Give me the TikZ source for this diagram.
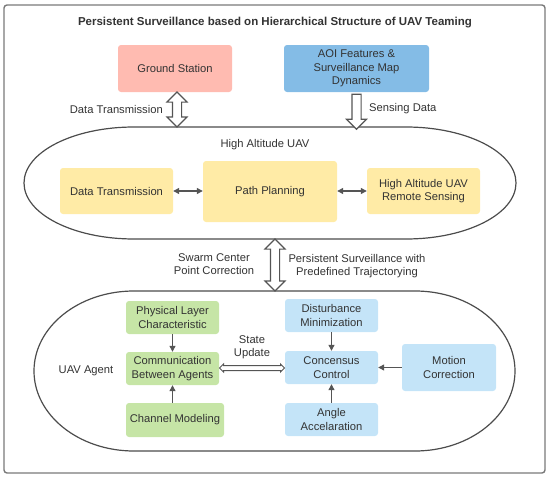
\documentclass[tikz,border=0pt]{standalone}
\usepackage{fontspec}
\setmainfont{Liberation Sans}
\usetikzlibrary{arrows.meta,shapes.arrows,calc}
\definecolor{gsred}{HTML}{FFBBB1}
\definecolor{aoiblue}{HTML}{84BCE6}
\definecolor{ylw}{HTML}{FFEBA6}
\definecolor{grn}{HTML}{C6E5A6}
\definecolor{lblue}{HTML}{C4E4F8}
\definecolor{txt}{HTML}{333333}
\definecolor{ln}{HTML}{555555}
\definecolor{framec}{HTML}{7A7A7A}
\begin{document}
\begin{tikzpicture}[x=1pt,y=-1pt,
  every node/.style={font=\fontsize{11.2pt}{13.5pt}\selectfont, text=txt},
  boxstyle/.style={rounded corners=3pt, inner sep=0pt, align=center},
  lbl/.style={inner sep=0pt, align=center},
  conn/.style={draw=ln, line width=1.2pt, -{Triangle[length=6pt,width=6pt]}},
  dconn/.style={draw=ln, line width=1.2pt, {Triangle[length=6pt,width=6pt]}-{Triangle[length=6pt,width=6pt]}},
  container/.style={draw=ln!90!black, line width=1.2pt},
  bigdbl/.style={double arrow, draw=ln, fill=white, line width=1.1pt, inner xsep=0pt, inner ysep=4pt,
    double arrow head extend=5.5pt, double arrow tip angle=90, minimum width=19pt},
  bigsgl/.style={single arrow, draw=ln, fill=white, line width=1.1pt, inner xsep=0pt, inner ysep=4pt,
    single arrow head extend=5.5pt, single arrow tip angle=90, minimum width=19pt},
  smalldbl/.style={double arrow, draw=ln, fill=white, line width=1pt, inner xsep=0pt, inner ysep=2pt,
    double arrow head extend=1.5pt, double arrow tip angle=90, minimum width=7pt}
]
\useasboundingbox (0,0) rectangle (550,479);
% frame
\draw[draw=framec, line width=1.4pt, rounded corners=3pt] (4,5) rectangle (545,473);
\node[font=\bfseries\fontsize{11.5pt}{13.5pt}\selectfont, lbl] (title) at (275,23)
  {Persistent Surveillance based on Hierarchical Structure of UAV Teaming};

% top boxes
\node[boxstyle, fill=gsred, minimum width=114, minimum height=47] (gs) at (175,68.5) {Ground Station};
\node[boxstyle, fill=aoiblue, minimum width=145, minimum height=47] (aoi) at (356.5,68.5)
  {AOI Features \&\\Surveillance Map\\Dynamics};

% high altitude container
\node[inner sep=0pt, minimum width=492, minimum height=112] (ha) at (270,183) {};
\draw[container] (134,127) -- (406,127) .. controls (466.75,127) and (516,152.1) .. (516,183)
  .. controls (516,213.9) and (466.75,239) .. (406,239) -- (134,239)
  .. controls (73.25,239) and (24,213.9) .. (24,183)
  .. controls (24,152.1) and (73.25,127) .. (134,127) -- cycle;
\node[lbl] (halbl) at (265,145) {High Altitude UAV};
\node[boxstyle, fill=ylw, minimum width=113, minimum height=46] (dt) at (116.5,191) {Data Transmission};
\node[boxstyle, fill=ylw, minimum width=134, minimum height=61] (pp) at (270,191.5) {Path Planning};
\node[boxstyle, fill=ylw, minimum width=113, minimum height=46] (rs) at (423.5,191)
  {High Altitude UAV\\Remote Sensing};
\draw[dconn] (dt.east) -- (dt.east -| pp.west);
\draw[dconn] (rs.west -| pp.east) -- (rs.west);

% arrows between top boxes and container
\node[bigdbl, rotate=90, minimum height=35pt] (ar1) at ($(gs.south)!.5!(gs.south|-ha.north)+(2,0)$) {};
\node[lbl, anchor=east] (dtlbl) at (163,109) {Data Transmission};
\node[bigsgl, rotate=-90, minimum height=35pt] (ar2) at ($(aoi.south)!.5!(aoi.south|-ha.north)$) {};
\node[lbl, anchor=west] (sdlbl) at (369,109) {Sensing Data};

% UAV agent container
\node[inner sep=0pt, minimum width=481, minimum height=160] (ua) at (274.5,371) {};
\draw[container] (134,291) -- (415,291) .. controls (470.23,291) and (515,326.82) .. (515,371)
  .. controls (515,415.18) and (470.23,451) .. (415,451) -- (134,451)
  .. controls (78.77,451) and (34,415.18) .. (34,371)
  .. controls (34,326.82) and (78.77,291) .. (134,291) -- cycle;

\node[bigdbl, rotate=90, minimum height=52pt] (ar3) at ($(ha.south)!.5!(ha.south|-ua.north)+(5,0)$) {};
\node[lbl] (swlbl) at (214,264) {Swarm Center\\Point Correction};
\node[lbl] (pslbl) at (357,266) {Persistent Surveillance with\\Predefined Trajectorying};

\node[lbl] (ualbl) at (86,371) {UAV Agent};
\node[boxstyle, fill=grn, minimum width=93, minimum height=33] (phys) at (172.5,317.5)
  {Physical Layer\\Characteristic};
\node[boxstyle, fill=grn, minimum width=93, minimum height=33] (comm) at (172.5,368.5)
  {Communication\\Between Agents};
\node[boxstyle, fill=grn, minimum width=98, minimum height=34] (chan) at (175,420) {Channel Modeling};
\node[boxstyle, fill=lblue, minimum width=93, minimum height=33] (dist) at (331.5,315.5)
  {Disturbance\\Minimization};
\node[boxstyle, fill=lblue, minimum width=93, minimum height=33] (cons) at (331.5,367.5)
  {Concensus\\Control};
\node[boxstyle, fill=lblue, minimum width=93, minimum height=33] (angle) at (331.5,419.5)
  {Angle\\Accelaration};
\node[boxstyle, fill=lblue, minimum width=94, minimum height=47] (motion) at (449,367.5)
  {Motion\\Correction};

\draw[conn] (phys.south) -- (comm.north);
\draw[conn] (chan.north -| comm.south) -- (comm.south);
\draw[conn] (dist.south) -- (cons.north);
\draw[conn] (angle.north) -- (cons.south);
\draw[conn] (motion.west) -- (cons.east);

\node[smalldbl, minimum height=65pt] (ar4) at ($(comm.east)!.5!(cons.west)$) {};
\node[lbl] (sulbl) at (252,347.5) {State\\Update};
\end{tikzpicture}
\end{document}
